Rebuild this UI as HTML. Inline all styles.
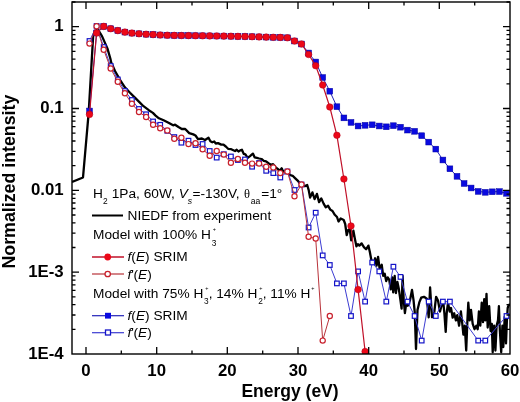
<!DOCTYPE html>
<html><head><meta charset="utf-8"><title>NIEDF plot</title>
<style>html,body{margin:0;padding:0;background:#fff;}svg{display:block;}</style>
</head><body>
<svg width="520" height="402" viewBox="0 0 520 402">
<defs><clipPath id="c"><rect x="72" y="2" width="438" height="352"/></clipPath></defs>
<rect width="520" height="402" fill="#fff"/>
<g clip-path="url(#c)">
<polyline points="72.0,182.0 83.0,177.5 88.7,112.4 93.2,35.0 97.7,29.0 102.1,36.4 107.4,48.4 110.4,58.8 111.2,62.4 115.0,71.0 120.0,79.8 124.9,87.3 130.0,92.7 135.4,98.1 139.4,102.1 143.5,106.2 148.8,110.2 152.9,112.9 155.6,115.6 158.9,118.3 163.6,120.3 169.0,123.0 173.1,125.3 175.1,124.7 178.5,127.0 181.8,129.0 185.2,129.0 189.2,133.1 193.3,134.4 195.5,135.5 198.0,139.2 201.9,138.5 205.0,140.0 208.5,137.7 210.4,141.2 212.3,142.3 214.2,141.5 215.8,143.5 218.0,143.1 221.2,144.6 223.5,144.6 225.8,146.5 228.1,148.8 231.2,149.2 235.0,151.0 236.7,149.8 238.5,151.5 240.2,150.4 241.9,149.8 243.7,153.8 245.4,154.4 247.7,157.9 250.0,156.1 252.9,153.6 254.6,157.3 256.9,157.9 259.2,158.5 261.5,159.0 263.8,160.8 266.1,161.3 268.4,163.1 270.8,164.8 273.1,164.2 275.4,167.1 277.7,168.8 280.0,170.6 281.7,168.3 283.4,172.3 285.7,171.1 288.1,172.9 290.4,175.2 292.7,175.8 295.0,178.1 298.2,181.2 301.2,185.0 304.9,186.1 307.2,185.0 308.7,190.1 310.1,197.6 312.4,192.4 314.6,199.1 316.9,193.9 319.1,202.1 321.3,198.4 323.6,203.6 325.8,207.3 328.1,205.8 330.3,209.6 332.5,211.0 334.8,214.8 337.0,217.0 338.5,221.5 340.7,218.5 343.7,220.0 345.2,224.0 346.7,235.1 348.2,230.0 349.7,229.2 351.2,240.4 353.4,230.7 354.9,238.9 356.4,246.3 357.9,244.1 359.4,245.6 361.6,243.4 363.9,247.1 366.1,249.3 368.4,245.6 369.9,252.3 371.3,259.8 373.6,262.8 375.1,258.3 376.6,265.7 378.1,256.8 379.6,268.7 381.7,264.7 383.2,275.9 384.7,273.7 386.2,281.1 387.7,277.4 389.2,279.6 390.7,289.3 392.2,277.4 393.2,292.3 394.7,275.9 395.9,293.0 397.4,281.9 398.9,289.3 400.4,299.8 401.6,308.7 402.6,275.9 403.7,299.8 404.9,313.2 406.3,302.8 407.8,305.7 410.1,299.8 412.0,290.0 413.5,299.8 414.7,311.7 416.0,349.0 417.5,309.9 419.3,302.4 421.2,297.7 424.0,296.8 426.8,298.7 428.7,317.3 430.1,287.5 432.0,317.3 433.9,315.4 436.1,296.8 438.0,300.5 440.0,311.5 441.8,304.5 443.2,301.0 444.4,313.3 445.7,331.9 446.7,313.3 448.0,302.7 449.7,311.5 451.0,308.0 452.7,317.7 454.2,313.3 455.9,320.4 457.3,315.1 459.1,325.7 460.9,311.5 462.1,322.2 463.4,334.6 464.8,325.7 466.2,350.5 467.4,320.4 468.3,302.7 469.7,320.4 471.0,309.8 472.7,323.9 474.5,329.2 476.3,325.7 477.7,329.2 478.9,311.5 480.3,325.7 481.7,302.7 483.0,322.2 484.2,299.2 485.3,320.4 486.5,293.8 487.7,327.5 489.2,306.2 490.6,331.0 491.8,323.9 492.7,352.3 494.1,325.7 495.4,350.5 496.6,325.7 498.0,320.4 498.9,306.2 499.8,329.2 501.2,352.3 502.4,325.7 503.3,347.0 504.7,316.9 506.0,343.4 506.9,320.4 507.7,308.0 508.6,305.4 510.0,304.0" fill="none" stroke="#000" stroke-width="2.3" stroke-linejoin="round"/>
<polyline points="89.5,41.0 96.6,26.0 103.7,47.0 110.7,66.0 117.8,79.5 124.9,91.0 131.9,100.0 139.0,109.0 146.1,114.3 153.1,121.5 160.2,124.8 167.3,130.8 174.3,137.1 181.4,142.7 188.5,140.7 195.5,145.0 202.6,144.0 209.7,151.0 216.7,157.6 223.8,154.2 230.9,156.5 237.9,160.0 245.0,159.5 252.1,166.7 259.1,163.0 266.2,170.8 273.3,173.1 280.3,177.5 287.4,171.5 294.5,190.0 301.5,184.5 308.6,227.5 315.7,212.7 322.7,255.4 329.8,265.0 336.9,283.4 343.9,283.4 351.0,316.0 358.1,271.4 365.1,301.6 372.2,262.5 379.3,271.4 386.3,301.6 393.4,266.7 400.5,276.9 407.5,301.6 414.6,316.0 421.7,340.6 428.7,301.6 435.8,316.0 442.9,301.6 449.9,301.6 478.2,340.6 485.3,340.6 506.5,316.0" fill="none" stroke="#3c3cd2" stroke-width="1" stroke-linejoin="round"/>
<rect x="87.2" y="38.7" width="4.6" height="4.6" fill="#fff" stroke="#1414c8" stroke-width="1.2"/>
<rect x="94.3" y="23.7" width="4.6" height="4.6" fill="#fff" stroke="#1414c8" stroke-width="1.2"/>
<rect x="101.4" y="44.7" width="4.6" height="4.6" fill="#fff" stroke="#1414c8" stroke-width="1.2"/>
<rect x="108.4" y="63.7" width="4.6" height="4.6" fill="#fff" stroke="#1414c8" stroke-width="1.2"/>
<rect x="115.5" y="77.2" width="4.6" height="4.6" fill="#fff" stroke="#1414c8" stroke-width="1.2"/>
<rect x="122.6" y="88.7" width="4.6" height="4.6" fill="#fff" stroke="#1414c8" stroke-width="1.2"/>
<rect x="129.6" y="97.7" width="4.6" height="4.6" fill="#fff" stroke="#1414c8" stroke-width="1.2"/>
<rect x="136.7" y="106.7" width="4.6" height="4.6" fill="#fff" stroke="#1414c8" stroke-width="1.2"/>
<rect x="143.8" y="112.0" width="4.6" height="4.6" fill="#fff" stroke="#1414c8" stroke-width="1.2"/>
<rect x="150.8" y="119.2" width="4.6" height="4.6" fill="#fff" stroke="#1414c8" stroke-width="1.2"/>
<rect x="157.9" y="122.5" width="4.6" height="4.6" fill="#fff" stroke="#1414c8" stroke-width="1.2"/>
<rect x="165.0" y="128.5" width="4.6" height="4.6" fill="#fff" stroke="#1414c8" stroke-width="1.2"/>
<rect x="172.0" y="134.8" width="4.6" height="4.6" fill="#fff" stroke="#1414c8" stroke-width="1.2"/>
<rect x="179.1" y="140.4" width="4.6" height="4.6" fill="#fff" stroke="#1414c8" stroke-width="1.2"/>
<rect x="186.2" y="138.4" width="4.6" height="4.6" fill="#fff" stroke="#1414c8" stroke-width="1.2"/>
<rect x="193.2" y="142.7" width="4.6" height="4.6" fill="#fff" stroke="#1414c8" stroke-width="1.2"/>
<rect x="200.3" y="141.7" width="4.6" height="4.6" fill="#fff" stroke="#1414c8" stroke-width="1.2"/>
<rect x="207.4" y="148.7" width="4.6" height="4.6" fill="#fff" stroke="#1414c8" stroke-width="1.2"/>
<rect x="214.4" y="155.3" width="4.6" height="4.6" fill="#fff" stroke="#1414c8" stroke-width="1.2"/>
<rect x="221.5" y="151.9" width="4.6" height="4.6" fill="#fff" stroke="#1414c8" stroke-width="1.2"/>
<rect x="228.6" y="154.2" width="4.6" height="4.6" fill="#fff" stroke="#1414c8" stroke-width="1.2"/>
<rect x="235.6" y="157.7" width="4.6" height="4.6" fill="#fff" stroke="#1414c8" stroke-width="1.2"/>
<rect x="242.7" y="157.2" width="4.6" height="4.6" fill="#fff" stroke="#1414c8" stroke-width="1.2"/>
<rect x="249.8" y="164.4" width="4.6" height="4.6" fill="#fff" stroke="#1414c8" stroke-width="1.2"/>
<rect x="256.8" y="160.7" width="4.6" height="4.6" fill="#fff" stroke="#1414c8" stroke-width="1.2"/>
<rect x="263.9" y="168.5" width="4.6" height="4.6" fill="#fff" stroke="#1414c8" stroke-width="1.2"/>
<rect x="271.0" y="170.8" width="4.6" height="4.6" fill="#fff" stroke="#1414c8" stroke-width="1.2"/>
<rect x="278.0" y="175.2" width="4.6" height="4.6" fill="#fff" stroke="#1414c8" stroke-width="1.2"/>
<rect x="285.1" y="169.2" width="4.6" height="4.6" fill="#fff" stroke="#1414c8" stroke-width="1.2"/>
<rect x="292.2" y="187.7" width="4.6" height="4.6" fill="#fff" stroke="#1414c8" stroke-width="1.2"/>
<rect x="299.2" y="182.2" width="4.6" height="4.6" fill="#fff" stroke="#1414c8" stroke-width="1.2"/>
<rect x="306.3" y="225.2" width="4.6" height="4.6" fill="#fff" stroke="#1414c8" stroke-width="1.2"/>
<rect x="313.4" y="210.4" width="4.6" height="4.6" fill="#fff" stroke="#1414c8" stroke-width="1.2"/>
<rect x="320.4" y="253.1" width="4.6" height="4.6" fill="#fff" stroke="#1414c8" stroke-width="1.2"/>
<rect x="327.5" y="262.7" width="4.6" height="4.6" fill="#fff" stroke="#1414c8" stroke-width="1.2"/>
<rect x="334.6" y="281.1" width="4.6" height="4.6" fill="#fff" stroke="#1414c8" stroke-width="1.2"/>
<rect x="341.6" y="281.1" width="4.6" height="4.6" fill="#fff" stroke="#1414c8" stroke-width="1.2"/>
<rect x="348.7" y="313.7" width="4.6" height="4.6" fill="#fff" stroke="#1414c8" stroke-width="1.2"/>
<rect x="355.8" y="269.1" width="4.6" height="4.6" fill="#fff" stroke="#1414c8" stroke-width="1.2"/>
<rect x="362.8" y="299.3" width="4.6" height="4.6" fill="#fff" stroke="#1414c8" stroke-width="1.2"/>
<rect x="369.9" y="260.2" width="4.6" height="4.6" fill="#fff" stroke="#1414c8" stroke-width="1.2"/>
<rect x="377.0" y="269.1" width="4.6" height="4.6" fill="#fff" stroke="#1414c8" stroke-width="1.2"/>
<rect x="384.0" y="299.3" width="4.6" height="4.6" fill="#fff" stroke="#1414c8" stroke-width="1.2"/>
<rect x="391.1" y="264.4" width="4.6" height="4.6" fill="#fff" stroke="#1414c8" stroke-width="1.2"/>
<rect x="398.2" y="274.6" width="4.6" height="4.6" fill="#fff" stroke="#1414c8" stroke-width="1.2"/>
<rect x="405.2" y="299.3" width="4.6" height="4.6" fill="#fff" stroke="#1414c8" stroke-width="1.2"/>
<rect x="412.3" y="313.7" width="4.6" height="4.6" fill="#fff" stroke="#1414c8" stroke-width="1.2"/>
<rect x="419.4" y="338.3" width="4.6" height="4.6" fill="#fff" stroke="#1414c8" stroke-width="1.2"/>
<rect x="426.4" y="299.3" width="4.6" height="4.6" fill="#fff" stroke="#1414c8" stroke-width="1.2"/>
<rect x="433.5" y="313.7" width="4.6" height="4.6" fill="#fff" stroke="#1414c8" stroke-width="1.2"/>
<rect x="440.6" y="299.3" width="4.6" height="4.6" fill="#fff" stroke="#1414c8" stroke-width="1.2"/>
<rect x="447.6" y="299.3" width="4.6" height="4.6" fill="#fff" stroke="#1414c8" stroke-width="1.2"/>
<rect x="475.9" y="338.3" width="4.6" height="4.6" fill="#fff" stroke="#1414c8" stroke-width="1.2"/>
<rect x="483.0" y="338.3" width="4.6" height="4.6" fill="#fff" stroke="#1414c8" stroke-width="1.2"/>
<rect x="504.2" y="313.7" width="4.6" height="4.6" fill="#fff" stroke="#1414c8" stroke-width="1.2"/>
<polyline points="89.5,111.0 96.6,33.0 103.7,26.4 110.7,28.7 117.8,30.6 124.9,32.1 131.9,33.1 139.0,33.8 146.1,34.2 153.1,34.6 160.2,35.0 167.3,35.2 174.3,35.4 181.4,35.5 188.5,35.6 195.5,35.7 202.6,35.8 209.7,35.9 216.7,36.0 223.8,36.1 230.9,36.2 237.9,36.4 245.0,36.5 252.1,36.7 259.1,36.9 266.2,37.1 273.3,37.3 280.3,37.4 287.4,37.8 294.5,41.0 301.5,44.0 308.6,53.0 315.7,62.0 322.7,77.5 329.8,91.2 336.9,106.7 343.9,117.9 351.0,122.4 358.1,126.0 365.1,125.3 372.2,124.8 379.3,126.0 386.3,126.8 393.4,125.7 400.5,127.2 407.5,130.1 414.6,131.3 421.7,135.7 428.7,142.1 435.8,149.1 442.9,160.0 449.9,168.8 457.0,176.3 464.1,183.5 471.1,188.0 478.2,191.4 485.3,192.3 492.3,191.8 499.4,191.6 506.5,193.3" fill="none" stroke="#2222b8" stroke-width="1" stroke-linejoin="round"/>
<rect x="86.6" y="108.1" width="5.8" height="5.8" fill="#0a0ae0" stroke="#0000a0" stroke-width="0.5"/>
<rect x="93.7" y="30.1" width="5.8" height="5.8" fill="#0a0ae0" stroke="#0000a0" stroke-width="0.5"/>
<rect x="100.8" y="23.5" width="5.8" height="5.8" fill="#0a0ae0" stroke="#0000a0" stroke-width="0.5"/>
<rect x="107.8" y="25.8" width="5.8" height="5.8" fill="#0a0ae0" stroke="#0000a0" stroke-width="0.5"/>
<rect x="114.9" y="27.7" width="5.8" height="5.8" fill="#0a0ae0" stroke="#0000a0" stroke-width="0.5"/>
<rect x="122.0" y="29.2" width="5.8" height="5.8" fill="#0a0ae0" stroke="#0000a0" stroke-width="0.5"/>
<rect x="129.0" y="30.2" width="5.8" height="5.8" fill="#0a0ae0" stroke="#0000a0" stroke-width="0.5"/>
<rect x="136.1" y="30.9" width="5.8" height="5.8" fill="#0a0ae0" stroke="#0000a0" stroke-width="0.5"/>
<rect x="143.2" y="31.3" width="5.8" height="5.8" fill="#0a0ae0" stroke="#0000a0" stroke-width="0.5"/>
<rect x="150.2" y="31.7" width="5.8" height="5.8" fill="#0a0ae0" stroke="#0000a0" stroke-width="0.5"/>
<rect x="157.3" y="32.1" width="5.8" height="5.8" fill="#0a0ae0" stroke="#0000a0" stroke-width="0.5"/>
<rect x="164.4" y="32.3" width="5.8" height="5.8" fill="#0a0ae0" stroke="#0000a0" stroke-width="0.5"/>
<rect x="171.4" y="32.5" width="5.8" height="5.8" fill="#0a0ae0" stroke="#0000a0" stroke-width="0.5"/>
<rect x="178.5" y="32.6" width="5.8" height="5.8" fill="#0a0ae0" stroke="#0000a0" stroke-width="0.5"/>
<rect x="185.6" y="32.7" width="5.8" height="5.8" fill="#0a0ae0" stroke="#0000a0" stroke-width="0.5"/>
<rect x="192.6" y="32.8" width="5.8" height="5.8" fill="#0a0ae0" stroke="#0000a0" stroke-width="0.5"/>
<rect x="199.7" y="32.9" width="5.8" height="5.8" fill="#0a0ae0" stroke="#0000a0" stroke-width="0.5"/>
<rect x="206.8" y="33.0" width="5.8" height="5.8" fill="#0a0ae0" stroke="#0000a0" stroke-width="0.5"/>
<rect x="213.8" y="33.1" width="5.8" height="5.8" fill="#0a0ae0" stroke="#0000a0" stroke-width="0.5"/>
<rect x="220.9" y="33.2" width="5.8" height="5.8" fill="#0a0ae0" stroke="#0000a0" stroke-width="0.5"/>
<rect x="228.0" y="33.3" width="5.8" height="5.8" fill="#0a0ae0" stroke="#0000a0" stroke-width="0.5"/>
<rect x="235.0" y="33.5" width="5.8" height="5.8" fill="#0a0ae0" stroke="#0000a0" stroke-width="0.5"/>
<rect x="242.1" y="33.6" width="5.8" height="5.8" fill="#0a0ae0" stroke="#0000a0" stroke-width="0.5"/>
<rect x="249.2" y="33.8" width="5.8" height="5.8" fill="#0a0ae0" stroke="#0000a0" stroke-width="0.5"/>
<rect x="256.2" y="34.0" width="5.8" height="5.8" fill="#0a0ae0" stroke="#0000a0" stroke-width="0.5"/>
<rect x="263.3" y="34.2" width="5.8" height="5.8" fill="#0a0ae0" stroke="#0000a0" stroke-width="0.5"/>
<rect x="270.4" y="34.4" width="5.8" height="5.8" fill="#0a0ae0" stroke="#0000a0" stroke-width="0.5"/>
<rect x="277.4" y="34.5" width="5.8" height="5.8" fill="#0a0ae0" stroke="#0000a0" stroke-width="0.5"/>
<rect x="284.5" y="34.9" width="5.8" height="5.8" fill="#0a0ae0" stroke="#0000a0" stroke-width="0.5"/>
<rect x="291.6" y="38.1" width="5.8" height="5.8" fill="#0a0ae0" stroke="#0000a0" stroke-width="0.5"/>
<rect x="298.6" y="41.1" width="5.8" height="5.8" fill="#0a0ae0" stroke="#0000a0" stroke-width="0.5"/>
<rect x="305.7" y="50.1" width="5.8" height="5.8" fill="#0a0ae0" stroke="#0000a0" stroke-width="0.5"/>
<rect x="312.8" y="59.1" width="5.8" height="5.8" fill="#0a0ae0" stroke="#0000a0" stroke-width="0.5"/>
<rect x="319.8" y="74.6" width="5.8" height="5.8" fill="#0a0ae0" stroke="#0000a0" stroke-width="0.5"/>
<rect x="326.9" y="88.3" width="5.8" height="5.8" fill="#0a0ae0" stroke="#0000a0" stroke-width="0.5"/>
<rect x="334.0" y="103.8" width="5.8" height="5.8" fill="#0a0ae0" stroke="#0000a0" stroke-width="0.5"/>
<rect x="341.0" y="115.0" width="5.8" height="5.8" fill="#0a0ae0" stroke="#0000a0" stroke-width="0.5"/>
<rect x="348.1" y="119.5" width="5.8" height="5.8" fill="#0a0ae0" stroke="#0000a0" stroke-width="0.5"/>
<rect x="355.2" y="123.1" width="5.8" height="5.8" fill="#0a0ae0" stroke="#0000a0" stroke-width="0.5"/>
<rect x="362.2" y="122.4" width="5.8" height="5.8" fill="#0a0ae0" stroke="#0000a0" stroke-width="0.5"/>
<rect x="369.3" y="121.9" width="5.8" height="5.8" fill="#0a0ae0" stroke="#0000a0" stroke-width="0.5"/>
<rect x="376.4" y="123.1" width="5.8" height="5.8" fill="#0a0ae0" stroke="#0000a0" stroke-width="0.5"/>
<rect x="383.4" y="123.9" width="5.8" height="5.8" fill="#0a0ae0" stroke="#0000a0" stroke-width="0.5"/>
<rect x="390.5" y="122.8" width="5.8" height="5.8" fill="#0a0ae0" stroke="#0000a0" stroke-width="0.5"/>
<rect x="397.6" y="124.3" width="5.8" height="5.8" fill="#0a0ae0" stroke="#0000a0" stroke-width="0.5"/>
<rect x="404.6" y="127.2" width="5.8" height="5.8" fill="#0a0ae0" stroke="#0000a0" stroke-width="0.5"/>
<rect x="411.7" y="128.4" width="5.8" height="5.8" fill="#0a0ae0" stroke="#0000a0" stroke-width="0.5"/>
<rect x="418.8" y="132.8" width="5.8" height="5.8" fill="#0a0ae0" stroke="#0000a0" stroke-width="0.5"/>
<rect x="425.8" y="139.2" width="5.8" height="5.8" fill="#0a0ae0" stroke="#0000a0" stroke-width="0.5"/>
<rect x="432.9" y="146.2" width="5.8" height="5.8" fill="#0a0ae0" stroke="#0000a0" stroke-width="0.5"/>
<rect x="440.0" y="157.1" width="5.8" height="5.8" fill="#0a0ae0" stroke="#0000a0" stroke-width="0.5"/>
<rect x="447.0" y="165.9" width="5.8" height="5.8" fill="#0a0ae0" stroke="#0000a0" stroke-width="0.5"/>
<rect x="454.1" y="173.4" width="5.8" height="5.8" fill="#0a0ae0" stroke="#0000a0" stroke-width="0.5"/>
<rect x="461.2" y="180.6" width="5.8" height="5.8" fill="#0a0ae0" stroke="#0000a0" stroke-width="0.5"/>
<rect x="468.2" y="185.1" width="5.8" height="5.8" fill="#0a0ae0" stroke="#0000a0" stroke-width="0.5"/>
<rect x="475.3" y="188.5" width="5.8" height="5.8" fill="#0a0ae0" stroke="#0000a0" stroke-width="0.5"/>
<rect x="482.4" y="189.4" width="5.8" height="5.8" fill="#0a0ae0" stroke="#0000a0" stroke-width="0.5"/>
<rect x="489.4" y="188.9" width="5.8" height="5.8" fill="#0a0ae0" stroke="#0000a0" stroke-width="0.5"/>
<rect x="496.5" y="188.7" width="5.8" height="5.8" fill="#0a0ae0" stroke="#0000a0" stroke-width="0.5"/>
<rect x="503.6" y="190.4" width="5.8" height="5.8" fill="#0a0ae0" stroke="#0000a0" stroke-width="0.5"/>
<polyline points="89.5,43.6 96.6,26.2 103.7,49.8 110.7,68.5 117.8,81.8 124.9,93.3 131.9,103.7 139.0,112.0 146.1,117.0 153.1,124.8 160.2,128.2 167.3,130.4 174.3,138.7 181.4,137.7 188.5,144.1 195.5,143.3 202.6,149.2 209.7,155.7 216.7,151.0 223.8,154.6 230.9,162.8 237.9,159.0 245.0,162.8 252.1,163.6 259.1,163.6 266.2,166.7 273.3,167.4 280.3,173.1 287.4,171.5 294.5,196.2 301.5,184.5 308.6,236.8 315.7,238.5 322.7,340.6 329.8,316.0" fill="none" stroke="#b8323a" stroke-width="1" stroke-linejoin="round"/>
<circle cx="89.5" cy="43.6" r="2.6" fill="#fff" stroke="#c8202c" stroke-width="1.2"/>
<circle cx="96.6" cy="26.2" r="2.6" fill="#fff" stroke="#c8202c" stroke-width="1.2"/>
<circle cx="103.7" cy="49.8" r="2.6" fill="#fff" stroke="#c8202c" stroke-width="1.2"/>
<circle cx="110.7" cy="68.5" r="2.6" fill="#fff" stroke="#c8202c" stroke-width="1.2"/>
<circle cx="117.8" cy="81.8" r="2.6" fill="#fff" stroke="#c8202c" stroke-width="1.2"/>
<circle cx="124.9" cy="93.3" r="2.6" fill="#fff" stroke="#c8202c" stroke-width="1.2"/>
<circle cx="131.9" cy="103.7" r="2.6" fill="#fff" stroke="#c8202c" stroke-width="1.2"/>
<circle cx="139.0" cy="112.0" r="2.6" fill="#fff" stroke="#c8202c" stroke-width="1.2"/>
<circle cx="146.1" cy="117.0" r="2.6" fill="#fff" stroke="#c8202c" stroke-width="1.2"/>
<circle cx="153.1" cy="124.8" r="2.6" fill="#fff" stroke="#c8202c" stroke-width="1.2"/>
<circle cx="160.2" cy="128.2" r="2.6" fill="#fff" stroke="#c8202c" stroke-width="1.2"/>
<circle cx="167.3" cy="130.4" r="2.6" fill="#fff" stroke="#c8202c" stroke-width="1.2"/>
<circle cx="174.3" cy="138.7" r="2.6" fill="#fff" stroke="#c8202c" stroke-width="1.2"/>
<circle cx="181.4" cy="137.7" r="2.6" fill="#fff" stroke="#c8202c" stroke-width="1.2"/>
<circle cx="188.5" cy="144.1" r="2.6" fill="#fff" stroke="#c8202c" stroke-width="1.2"/>
<circle cx="195.5" cy="143.3" r="2.6" fill="#fff" stroke="#c8202c" stroke-width="1.2"/>
<circle cx="202.6" cy="149.2" r="2.6" fill="#fff" stroke="#c8202c" stroke-width="1.2"/>
<circle cx="209.7" cy="155.7" r="2.6" fill="#fff" stroke="#c8202c" stroke-width="1.2"/>
<circle cx="216.7" cy="151.0" r="2.6" fill="#fff" stroke="#c8202c" stroke-width="1.2"/>
<circle cx="223.8" cy="154.6" r="2.6" fill="#fff" stroke="#c8202c" stroke-width="1.2"/>
<circle cx="230.9" cy="162.8" r="2.6" fill="#fff" stroke="#c8202c" stroke-width="1.2"/>
<circle cx="237.9" cy="159.0" r="2.6" fill="#fff" stroke="#c8202c" stroke-width="1.2"/>
<circle cx="245.0" cy="162.8" r="2.6" fill="#fff" stroke="#c8202c" stroke-width="1.2"/>
<circle cx="252.1" cy="163.6" r="2.6" fill="#fff" stroke="#c8202c" stroke-width="1.2"/>
<circle cx="259.1" cy="163.6" r="2.6" fill="#fff" stroke="#c8202c" stroke-width="1.2"/>
<circle cx="266.2" cy="166.7" r="2.6" fill="#fff" stroke="#c8202c" stroke-width="1.2"/>
<circle cx="273.3" cy="167.4" r="2.6" fill="#fff" stroke="#c8202c" stroke-width="1.2"/>
<circle cx="280.3" cy="173.1" r="2.6" fill="#fff" stroke="#c8202c" stroke-width="1.2"/>
<circle cx="287.4" cy="171.5" r="2.6" fill="#fff" stroke="#c8202c" stroke-width="1.2"/>
<circle cx="294.5" cy="196.2" r="2.6" fill="#fff" stroke="#c8202c" stroke-width="1.2"/>
<circle cx="301.5" cy="184.5" r="2.6" fill="#fff" stroke="#c8202c" stroke-width="1.2"/>
<circle cx="308.6" cy="236.8" r="2.6" fill="#fff" stroke="#c8202c" stroke-width="1.2"/>
<circle cx="315.7" cy="238.5" r="2.6" fill="#fff" stroke="#c8202c" stroke-width="1.2"/>
<circle cx="322.7" cy="340.6" r="2.6" fill="#fff" stroke="#c8202c" stroke-width="1.2"/>
<circle cx="329.8" cy="316.0" r="2.6" fill="#fff" stroke="#c8202c" stroke-width="1.2"/>
<polyline points="89.5,114.4 96.6,33.0 103.7,26.4 110.7,28.7 117.8,30.6 124.9,32.1 131.9,33.1 139.0,33.8 146.1,34.2 153.1,34.6 160.2,35.0 167.3,35.2 174.3,35.4 181.4,35.5 188.5,35.6 195.5,35.7 202.6,35.8 209.7,35.9 216.7,36.0 223.8,36.1 230.9,36.2 237.9,36.4 245.0,36.5 252.1,36.7 259.1,36.9 266.2,37.1 273.3,37.3 280.3,37.4 287.4,37.8 294.5,41.0 301.5,44.0 308.6,54.5 315.7,65.7 322.7,85.0 329.8,107.0 336.9,135.3 343.9,179.0 351.0,226.0 358.1,289.6 365.1,351.5" fill="none" stroke="#c01028" stroke-width="1.2" stroke-linejoin="round"/>
<circle cx="89.5" cy="114.4" r="3.3" fill="#ec0818" stroke="#b00018" stroke-width="0.5"/>
<circle cx="96.6" cy="33.0" r="3.3" fill="#ec0818" stroke="#b00018" stroke-width="0.5"/>
<circle cx="103.7" cy="26.4" r="3.3" fill="#ec0818" stroke="#b00018" stroke-width="0.5"/>
<circle cx="110.7" cy="28.7" r="3.3" fill="#ec0818" stroke="#b00018" stroke-width="0.5"/>
<circle cx="117.8" cy="30.6" r="3.3" fill="#ec0818" stroke="#b00018" stroke-width="0.5"/>
<circle cx="124.9" cy="32.1" r="3.3" fill="#ec0818" stroke="#b00018" stroke-width="0.5"/>
<circle cx="131.9" cy="33.1" r="3.3" fill="#ec0818" stroke="#b00018" stroke-width="0.5"/>
<circle cx="139.0" cy="33.8" r="3.3" fill="#ec0818" stroke="#b00018" stroke-width="0.5"/>
<circle cx="146.1" cy="34.2" r="3.3" fill="#ec0818" stroke="#b00018" stroke-width="0.5"/>
<circle cx="153.1" cy="34.6" r="3.3" fill="#ec0818" stroke="#b00018" stroke-width="0.5"/>
<circle cx="160.2" cy="35.0" r="3.3" fill="#ec0818" stroke="#b00018" stroke-width="0.5"/>
<circle cx="167.3" cy="35.2" r="3.3" fill="#ec0818" stroke="#b00018" stroke-width="0.5"/>
<circle cx="174.3" cy="35.4" r="3.3" fill="#ec0818" stroke="#b00018" stroke-width="0.5"/>
<circle cx="181.4" cy="35.5" r="3.3" fill="#ec0818" stroke="#b00018" stroke-width="0.5"/>
<circle cx="188.5" cy="35.6" r="3.3" fill="#ec0818" stroke="#b00018" stroke-width="0.5"/>
<circle cx="195.5" cy="35.7" r="3.3" fill="#ec0818" stroke="#b00018" stroke-width="0.5"/>
<circle cx="202.6" cy="35.8" r="3.3" fill="#ec0818" stroke="#b00018" stroke-width="0.5"/>
<circle cx="209.7" cy="35.9" r="3.3" fill="#ec0818" stroke="#b00018" stroke-width="0.5"/>
<circle cx="216.7" cy="36.0" r="3.3" fill="#ec0818" stroke="#b00018" stroke-width="0.5"/>
<circle cx="223.8" cy="36.1" r="3.3" fill="#ec0818" stroke="#b00018" stroke-width="0.5"/>
<circle cx="230.9" cy="36.2" r="3.3" fill="#ec0818" stroke="#b00018" stroke-width="0.5"/>
<circle cx="237.9" cy="36.4" r="3.3" fill="#ec0818" stroke="#b00018" stroke-width="0.5"/>
<circle cx="245.0" cy="36.5" r="3.3" fill="#ec0818" stroke="#b00018" stroke-width="0.5"/>
<circle cx="252.1" cy="36.7" r="3.3" fill="#ec0818" stroke="#b00018" stroke-width="0.5"/>
<circle cx="259.1" cy="36.9" r="3.3" fill="#ec0818" stroke="#b00018" stroke-width="0.5"/>
<circle cx="266.2" cy="37.1" r="3.3" fill="#ec0818" stroke="#b00018" stroke-width="0.5"/>
<circle cx="273.3" cy="37.3" r="3.3" fill="#ec0818" stroke="#b00018" stroke-width="0.5"/>
<circle cx="280.3" cy="37.4" r="3.3" fill="#ec0818" stroke="#b00018" stroke-width="0.5"/>
<circle cx="287.4" cy="37.8" r="3.3" fill="#ec0818" stroke="#b00018" stroke-width="0.5"/>
<circle cx="294.5" cy="41.0" r="3.3" fill="#ec0818" stroke="#b00018" stroke-width="0.5"/>
<circle cx="301.5" cy="44.0" r="3.3" fill="#ec0818" stroke="#b00018" stroke-width="0.5"/>
<circle cx="308.6" cy="54.5" r="3.3" fill="#ec0818" stroke="#b00018" stroke-width="0.5"/>
<circle cx="315.7" cy="65.7" r="3.3" fill="#ec0818" stroke="#b00018" stroke-width="0.5"/>
<circle cx="322.7" cy="85.0" r="3.3" fill="#ec0818" stroke="#b00018" stroke-width="0.5"/>
<circle cx="329.8" cy="107.0" r="3.3" fill="#ec0818" stroke="#b00018" stroke-width="0.5"/>
<circle cx="336.9" cy="135.3" r="3.3" fill="#ec0818" stroke="#b00018" stroke-width="0.5"/>
<circle cx="343.9" cy="179.0" r="3.3" fill="#ec0818" stroke="#b00018" stroke-width="0.5"/>
<circle cx="351.0" cy="226.0" r="3.3" fill="#ec0818" stroke="#b00018" stroke-width="0.5"/>
<circle cx="358.1" cy="289.6" r="3.3" fill="#ec0818" stroke="#b00018" stroke-width="0.5"/>
<circle cx="365.1" cy="351.5" r="3.3" fill="#ec0818" stroke="#b00018" stroke-width="0.5"/>
</g>
<path d="M86.0,2 v7.0 M86.0,354 v-7.0 M121.3,2 v3.5 M121.3,354 v-3.5 M156.7,2 v7.0 M156.7,354 v-7.0 M192.0,2 v3.5 M192.0,354 v-3.5 M227.3,2 v7.0 M227.3,354 v-7.0 M262.7,2 v3.5 M262.7,354 v-3.5 M298.0,2 v7.0 M298.0,354 v-7.0 M333.3,2 v3.5 M333.3,354 v-3.5 M368.7,2 v7.0 M368.7,354 v-7.0 M404.0,2 v3.5 M404.0,354 v-3.5 M439.3,2 v7.0 M439.3,354 v-7.0 M474.7,2 v3.5 M474.7,354 v-3.5 M72,329.4 h3.5 M510,329.4 h-3.5 M72,315.0 h3.5 M510,315.0 h-3.5 M72,304.7 h3.5 M510,304.7 h-3.5 M72,296.8 h3.5 M510,296.8 h-3.5 M72,290.3 h3.5 M510,290.3 h-3.5 M72,284.8 h3.5 M510,284.8 h-3.5 M72,280.1 h3.5 M510,280.1 h-3.5 M72,275.9 h3.5 M510,275.9 h-3.5 M72,272.2 h7.0 M510,272.2 h-7.0 M72,247.5 h3.5 M510,247.5 h-3.5 M72,233.1 h3.5 M510,233.1 h-3.5 M72,222.9 h3.5 M510,222.9 h-3.5 M72,215.0 h3.5 M510,215.0 h-3.5 M72,208.5 h3.5 M510,208.5 h-3.5 M72,203.0 h3.5 M510,203.0 h-3.5 M72,198.3 h3.5 M510,198.3 h-3.5 M72,194.1 h3.5 M510,194.1 h-3.5 M72,190.3 h7.0 M510,190.3 h-7.0 M72,165.7 h3.5 M510,165.7 h-3.5 M72,151.3 h3.5 M510,151.3 h-3.5 M72,141.0 h3.5 M510,141.0 h-3.5 M72,133.1 h3.5 M510,133.1 h-3.5 M72,126.6 h3.5 M510,126.6 h-3.5 M72,121.2 h3.5 M510,121.2 h-3.5 M72,116.4 h3.5 M510,116.4 h-3.5 M72,112.2 h3.5 M510,112.2 h-3.5 M72,108.5 h7.0 M510,108.5 h-7.0 M72,83.8 h3.5 M510,83.8 h-3.5 M72,69.4 h3.5 M510,69.4 h-3.5 M72,59.2 h3.5 M510,59.2 h-3.5 M72,51.3 h3.5 M510,51.3 h-3.5 M72,44.8 h3.5 M510,44.8 h-3.5 M72,39.3 h3.5 M510,39.3 h-3.5 M72,34.6 h3.5 M510,34.6 h-3.5 M72,30.4 h3.5 M510,30.4 h-3.5 M72,26.6 h7.0 M510,26.6 h-7.0 M72,2.0 h3.5 M510,2.0 h-3.5" stroke="#000" stroke-width="1.3" fill="none"/>
<rect x="72" y="2" width="438" height="352" fill="none" stroke="#000" stroke-width="1.4"/>
<g font-family="Liberation Sans, Arial, sans-serif" font-weight="bold" font-size="16.8" fill="#000">
<text x="86.0" y="375.6" text-anchor="middle">0</text>
<text x="156.7" y="375.6" text-anchor="middle">10</text>
<text x="227.3" y="375.6" text-anchor="middle">20</text>
<text x="298.0" y="375.6" text-anchor="middle">30</text>
<text x="368.7" y="375.6" text-anchor="middle">40</text>
<text x="439.3" y="375.6" text-anchor="middle">50</text>
<text x="510.0" y="375.6" text-anchor="middle">60</text>
<text x="63.6" y="358.6" text-anchor="end">1E-4</text>
<text x="63.6" y="276.8" text-anchor="end">1E-3</text>
<text x="63.6" y="194.9" text-anchor="end">0.01</text>
<text x="63.6" y="113.1" text-anchor="end">0.1</text>
<text x="63.6" y="31.2" text-anchor="end">1</text>
</g>
<text x="290" y="397" text-anchor="middle" font-family="Liberation Sans, Arial, sans-serif" font-weight="bold" font-size="17.5">Energy (eV)</text>
<text transform="translate(14.6,181.6) rotate(-90)" text-anchor="middle" font-family="Liberation Sans, Arial, sans-serif" font-weight="bold" font-size="17.8">Normalized intensity</text>
<g font-family="Liberation Sans, Arial, sans-serif" font-size="13.7" fill="#000">
<text x="93" y="198.4">H<tspan font-size="8.4" dy="5.3">2</tspan><tspan dy="-5.3" dx="0.4"> 1Pa, 60W, </tspan><tspan font-style="italic">V</tspan><tspan font-size="8.6" font-style="italic" dy="5.3">s</tspan><tspan dy="-5.3" dx="0.4">=-130V, </tspan><tspan font-family="Liberation Serif, serif" font-size="12.5" dx="0.6">θ</tspan><tspan font-size="8.6" dy="5.3" dx="0.8">aa</tspan><tspan dy="-5.3" dx="0.8">=1°</tspan></text>
<line x1="92" y1="215.5" x2="123" y2="215.5" stroke="#000" stroke-width="2"/>
<text x="127.5" y="220.2">NIEDF from experiment</text>
<text x="93" y="239.4">Model with 100% H<tspan font-size="8.3" dy="6.1" dx="0.8">3</tspan><tspan font-size="5.5" dx="-3.6" dy="-14.1">+</tspan></text>
<line x1="92" y1="257" x2="124" y2="257" stroke="#c01028" stroke-width="1.5"/>
<circle cx="107.7" cy="257" r="3.4" fill="#ec0818"/>
<text x="127.5" y="261.2"><tspan font-style="italic">f</tspan>(<tspan font-style="italic">E</tspan>) SRIM</text>
<line x1="92" y1="274" x2="124" y2="274" stroke="#b8323a" stroke-width="1.2"/>
<circle cx="107.7" cy="274" r="2.7" fill="#fff" stroke="#c8202c" stroke-width="1.3"/>
<text x="127.5" y="278.5"><tspan font-style="italic">f</tspan>'<tspan dx="-0.4">(</tspan><tspan font-style="italic">E</tspan>)</text>
<text x="93" y="298.3">Model with 75% H<tspan font-size="8.3" dy="6.1" dx="0.8">3</tspan><tspan font-size="5.5" dx="-3.6" dy="-14.1">+</tspan><tspan dy="8" dx="0.3">, 14% H</tspan><tspan font-size="8.3" dy="6.1" dx="0.8">2</tspan><tspan font-size="5.5" dx="-3.6" dy="-14.1">+</tspan><tspan dy="8" dx="0.3">, 11% H</tspan><tspan font-size="5.5" dy="-8" dx="0.8">+</tspan></text>
<line x1="92" y1="315.7" x2="124" y2="315.7" stroke="#2222b8" stroke-width="1.2"/>
<rect x="105" y="312.8" width="6" height="5.8" fill="#0a0ae0"/>
<text x="127.5" y="320.2"><tspan font-style="italic">f</tspan>(<tspan font-style="italic">E</tspan>) SRIM</text>
<line x1="92" y1="332.7" x2="124" y2="332.7" stroke="#3c3cd2" stroke-width="1.2"/>
<rect x="105.5" y="330" width="5" height="5" fill="#fff" stroke="#1414c8" stroke-width="1.3"/>
<text x="127.5" y="337.2"><tspan font-style="italic">f</tspan>'<tspan dx="-0.4">(</tspan><tspan font-style="italic">E</tspan>)</text>
</g>
</svg>
</body></html>
